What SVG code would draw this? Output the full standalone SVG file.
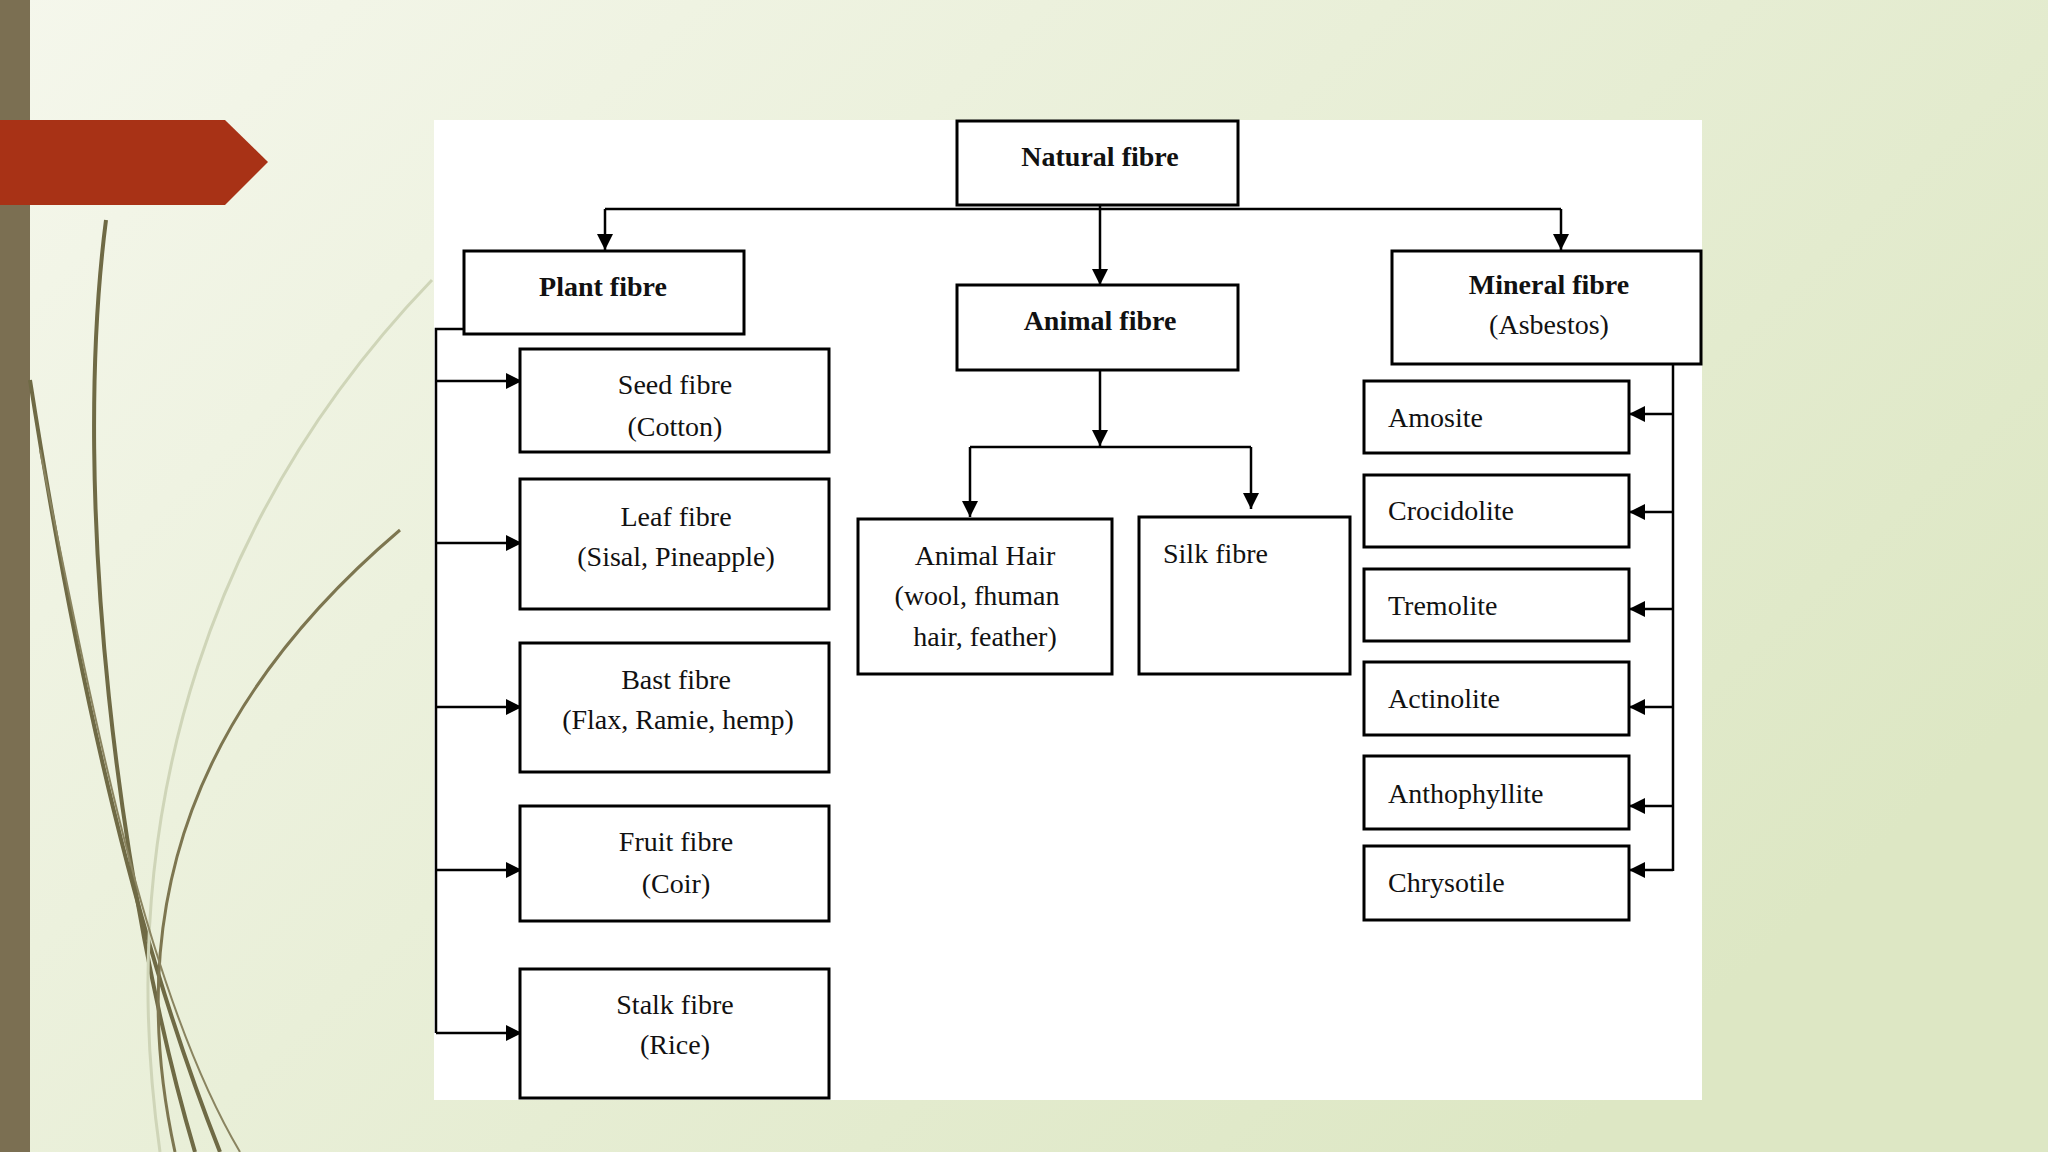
<svg xmlns="http://www.w3.org/2000/svg" width="2048" height="1152" viewBox="0 0 2048 1152">
<defs>
<linearGradient id="bg" x1="0" y1="0" x2="1" y2="0.6">
<stop offset="0" stop-color="#f5f7ec"/><stop offset="1" stop-color="#dde7c4"/>
</linearGradient>
<marker id="ah" viewBox="0 0 10 10" refX="10" refY="5" markerWidth="17" markerHeight="16" orient="auto" markerUnits="userSpaceOnUse">
<path d="M0,0 L10,5 L0,10 z" fill="#000"/>
</marker>
<style>
.b{fill:#fff;stroke:#000;stroke-width:3}
.t{font-family:"Liberation Serif",serif;font-size:28px;fill:#111}
.h{font-weight:bold}
.c{fill:none;stroke:#000;stroke-width:2.5}
.a{marker-end:url(#ah)}
</style>
</defs>
<rect width="2048" height="1152" fill="url(#bg)"/>
<rect x="0" y="0" width="30" height="1152" fill="#7b6f52"/>
<g fill="none" stroke="#6f6a45" stroke-width="4">
<path d="M30,380 C80,700 140,950 220,1152"/>
<path d="M106,220 C70,500 120,900 195,1152"/>
<path d="M400,530 C200,700 120,900 175,1152" stroke="#7d7650" stroke-width="3"/>
<path d="M432,280 C220,500 110,800 160,1152" stroke="#cfd5b8" stroke-width="3"/>
<path d="M40,450 C100,750 150,1000 240,1152" stroke="#8a8460" stroke-width="2"/>
</g>
<path d="M0,120 L225,120 L268,162 L225,205 L0,205 z" fill="#a83216"/>
<rect x="434" y="120" width="1268" height="980" fill="#fff"/>
<g id="connectors">
<path class="c a" d="M1100,205 V285"/>
<path class="c a" d="M605,209 H1561 M605,209 V250"/>
<path class="c a" d="M1561,209 V250"/>
<path class="c" d="M464,329 H436 V1033"/>
<path class="c a" d="M436,381 H522"/><path class="c a" d="M436,543 H522"/><path class="c a" d="M436,707 H522"/><path class="c a" d="M436,870 H522"/><path class="c a" d="M436,1033 H522"/>
<path class="c a" d="M1100,370 V446"/>
<path class="c a" d="M970,447 H1251 M970,447 V517"/>
<path class="c a" d="M1251,447 V509"/>
<path class="c" d="M1673,349 V871"/>
<path class="c a" d="M1673,414 H1629"/><path class="c a" d="M1673,512 H1629"/><path class="c a" d="M1673,609 H1629"/><path class="c a" d="M1673,707 H1629"/><path class="c a" d="M1673,806 H1629"/><path class="c a" d="M1673,870 H1629"/>
</g>
<g id="natural"><rect class="b" x="957" y="121" width="281" height="84"/><text class="t h" x="1100" y="166" text-anchor="middle">Natural fibre</text></g>
<g id="plant"><rect class="b" x="464" y="251" width="280" height="83"/><text class="t h" x="603" y="296" text-anchor="middle">Plant fibre</text></g>
<g id="animal"><rect class="b" x="957" y="285" width="281" height="85"/><text class="t h" x="1100" y="330" text-anchor="middle">Animal fibre</text></g>
<g id="mineral"><rect class="b" x="1392" y="251" width="309" height="113"/><text class="t h" x="1549" y="294" text-anchor="middle">Mineral fibre</text><text class="t" x="1549" y="334" text-anchor="middle">(Asbestos)</text></g>
<g id="seed"><rect class="b" x="520" y="349" width="309" height="103"/><text class="t" x="675" y="394" text-anchor="middle">Seed fibre</text><text class="t" x="675" y="436" text-anchor="middle">(Cotton)</text></g>
<g id="leaf"><rect class="b" x="520" y="479" width="309" height="130"/><text class="t" x="676" y="526" text-anchor="middle">Leaf fibre</text><text class="t" x="676" y="566" text-anchor="middle">(Sisal, Pineapple)</text></g>
<g id="bast"><rect class="b" x="520" y="643" width="309" height="129"/><text class="t" x="676" y="689" text-anchor="middle">Bast fibre</text><text class="t" x="678" y="729" text-anchor="middle">(Flax, Ramie, hemp)</text></g>
<g id="fruit"><rect class="b" x="520" y="806" width="309" height="115"/><text class="t" x="676" y="851" text-anchor="middle">Fruit fibre</text><text class="t" x="676" y="893" text-anchor="middle">(Coir)</text></g>
<g id="stalk"><rect class="b" x="520" y="969" width="309" height="129"/><text class="t" x="675" y="1014" text-anchor="middle">Stalk fibre</text><text class="t" x="675" y="1054" text-anchor="middle">(Rice)</text></g>
<g id="hair"><rect class="b" x="858" y="519" width="254" height="155"/><text class="t" x="985" y="565" text-anchor="middle">Animal Hair</text><text class="t" x="977" y="605" text-anchor="middle">(wool, fhuman</text><text class="t" x="985" y="646" text-anchor="middle">hair, feather)</text></g>
<g id="silk"><rect class="b" x="1139" y="517" width="211" height="157"/><text class="t" x="1163" y="563">Silk fibre</text></g>
<g id="amosite"><rect class="b" x="1364" y="381" width="265" height="72"/><text class="t" x="1388" y="427">Amosite</text></g>
<g id="crocidolite"><rect class="b" x="1364" y="475" width="265" height="72"/><text class="t" x="1388" y="520">Crocidolite</text></g>
<g id="tremolite"><rect class="b" x="1364" y="569" width="265" height="72"/><text class="t" x="1388" y="615">Tremolite</text></g>
<g id="actinolite"><rect class="b" x="1364" y="662" width="265" height="73"/><text class="t" x="1388" y="708">Actinolite</text></g>
<g id="anthophyllite"><rect class="b" x="1364" y="756" width="265" height="73"/><text class="t" x="1388" y="803">Anthophyllite</text></g>
<g id="chrysotile"><rect class="b" x="1364" y="846" width="265" height="74"/><text class="t" x="1388" y="892">Chrysotile</text></g>
</svg>
